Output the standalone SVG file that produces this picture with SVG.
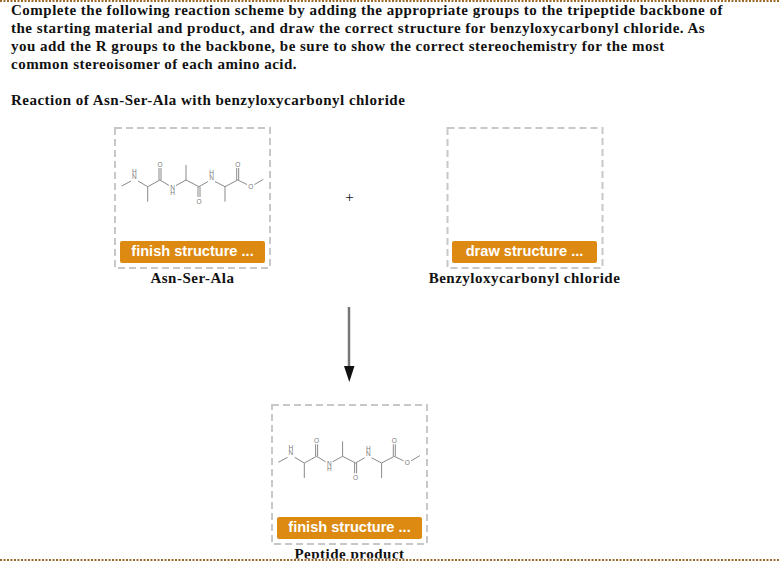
<svg xmlns="http://www.w3.org/2000/svg" width="780" height="562" viewBox="0 0 780 562">
<style>
text{font-family:"Liberation Serif","Times New Roman",serif;fill:#111}
.h{font-size:15px;font-weight:bold;letter-spacing:.49px}
.l{font-size:15px;font-weight:bold;text-anchor:middle;letter-spacing:.5px}
.box{fill:#fff;stroke:#c8c8c8;stroke-width:2;stroke-dasharray:7 4}
.btn{fill:#dc8a12}
.bt{font-family:"Liberation Sans",Arial,sans-serif;font-size:14.6px;font-weight:bold;fill:#fff;text-anchor:middle}
.dot{stroke:#9a6a2a;stroke-width:2;stroke-dasharray:2 1.5;fill:none}
.bond{fill:none;stroke:#8a8a8a;stroke-width:1}
.at{font-family:"Liberation Sans",Arial,sans-serif;font-size:6.500px;fill:#777;text-anchor:middle}
</style>
<defs>
<g id="mol">
<path class="bond" d="M121.7 186L131 181M138 181L147.7 186.7V201.7M147.7 186.7L160 180L169 185.5M176 185.5L186 180V165M186 180L199 186.7L208 181.5M215 181.5L225 186.7V201.7M225 186.7L237.7 180L247 184.5M254.5 184.5L263.3 179.3M159 180V168M161 180V168M198 186.7V197M200 186.7V197M236.7 180V168M238.7 180V168"/>
<text class="at" x="134.3" y="179">N</text><text class="at" x="134.3" y="174">H</text>
<text class="at" x="160" y="166.500">O</text>
<text class="at" x="172.7" y="190">N</text><text class="at" x="172.7" y="195">H</text>
<text class="at" x="199" y="204">O</text>
<text class="at" x="211.7" y="179.500">N</text><text class="at" x="211.7" y="174.500">H</text>
<text class="at" x="237.7" y="166.500">O</text>
<text class="at" x="250.7" y="188.500">O</text>
</g>
</defs>
<line class="dot" x1="0" y1="1" x2="780" y2="1"/>
<line class="dot" x1="0" y1="560" x2="780" y2="560"/>
<g id="instructions">
<text class="h" x="11" y="15">Complete the following reaction scheme by adding the appropriate groups to the tripeptide backbone of</text>
<text class="h" x="11" y="33">the starting material and product, and draw the correct structure for benzyloxycarbonyl chloride. As</text>
<text class="h" x="11" y="51">you add the R groups to the backbone, be sure to show the correct stereochemistry for the most</text>
<text class="h" x="11" y="69">common stereoisomer of each amino acid.</text>
<text class="h" x="11" y="105">Reaction of Asn-Ser-Ala with benzyloxycarbonyl chloride</text>
</g>
<g id="asn-ser-ala">
<rect class="box" x="115" y="128" width="155" height="140"/>
<use href="#mol"/>
<rect class="btn" x="120" y="241" width="145" height="22" rx="2"/>
<text class="bt" x="192.500" y="256">finish structure ...</text>
<text class="l" x="192.500" y="283">Asn-Ser-Ala</text>
</g>
<g id="plus"><text x="349.500" y="202" style="font-size:15px" text-anchor="middle">+</text></g>
<g id="benzyloxycarbonyl-chloride">
<rect class="box" x="447.500" y="128" width="155" height="140"/>
<rect class="btn" x="452" y="241" width="145" height="22" rx="2"/>
<text class="bt" x="524.500" y="256">draw structure ...</text>
<text class="l" x="524.500" y="283">Benzyloxycarbonyl chloride</text>
</g>
<g id="connectors">
<line x1="349" y1="307" x2="349" y2="368" stroke="#777" stroke-width="2.500"/>
<path d="M344 366H354.500L349.300 382Z" fill="#111"/>
</g>
<g id="peptide-product">
<rect class="box" x="272" y="405" width="155" height="139"/>
<use href="#mol" transform="translate(156.600 276.300)"/>
<rect class="btn" x="277" y="517" width="145" height="22" rx="2"/>
<text class="bt" x="349.500" y="532">finish structure ...</text>
<text class="l" x="349.500" y="559">Peptide product</text>
<rect x="280" y="558.500" width="140" height="3.500" fill="#fff"/>
<line class="dot" x1="280" y1="560" x2="420" y2="560"/>
</g>
</svg>
